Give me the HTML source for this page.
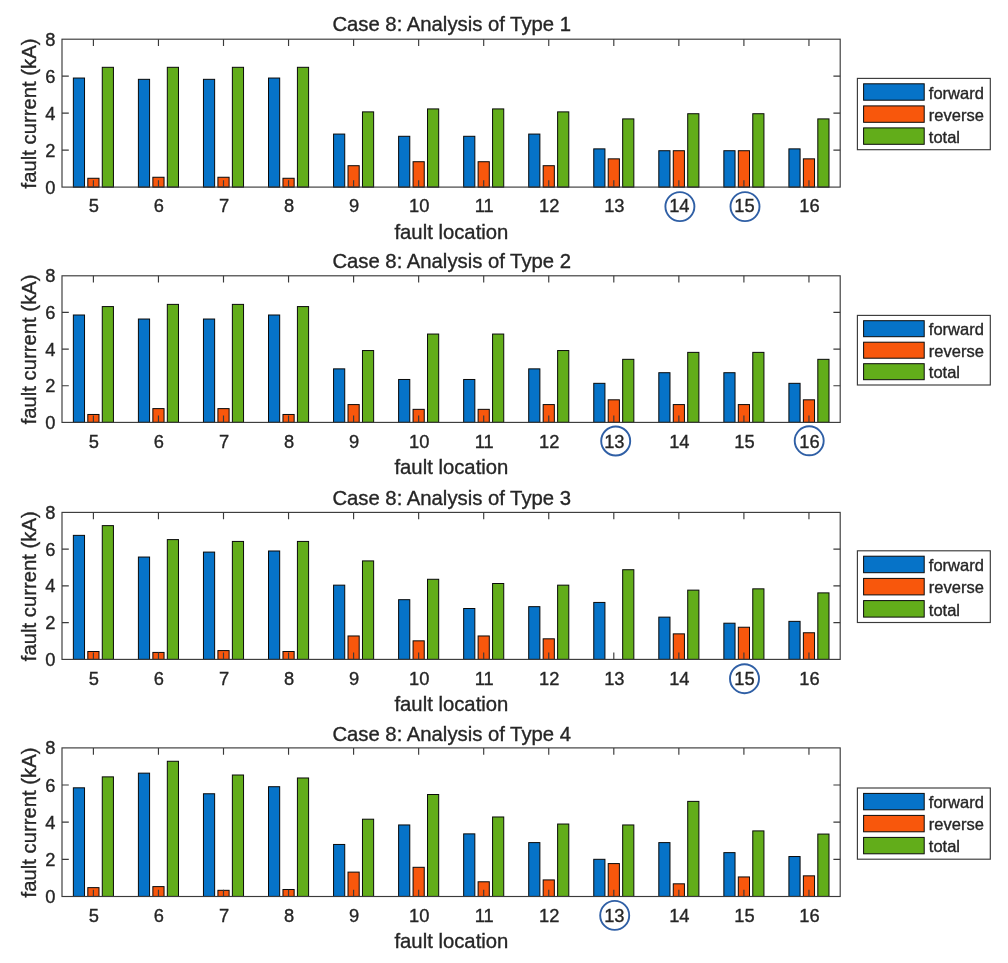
<!DOCTYPE html>
<html lang="en"><head><meta charset="utf-8"><title>Case 8: fault current analysis</title>
<style>html,body{margin:0;padding:0;background:#fff}body{width:1008px;height:963px;overflow:hidden}svg{display:block;filter:blur(0.55px)}text{font-family:"Liberation Sans", sans-serif;stroke:#262626;stroke-width:0.35px}</style></head><body>
<svg width="1008" height="963" viewBox="0 0 1008 963">
<rect width="1008" height="963" fill="#ffffff"/>
<g>
<text x="451.7" y="30.8" font-size="20.3" fill="#262626" text-anchor="middle">Case 8: Analysis of Type 1</text>
<rect x="73.36" y="78.04" width="11.17" height="109.11" fill="#0673C8" stroke="#0a0a0a" stroke-width="1"/>
<rect x="87.82" y="178.27" width="11.17" height="8.88" fill="#F8570C" stroke="#0a0a0a" stroke-width="1"/>
<rect x="102.27" y="67.31" width="11.17" height="119.84" fill="#62AD1A" stroke="#0a0a0a" stroke-width="1"/>
<rect x="138.41" y="79.33" width="11.17" height="107.82" fill="#0673C8" stroke="#0a0a0a" stroke-width="1"/>
<rect x="152.87" y="177.26" width="11.17" height="9.89" fill="#F8570C" stroke="#0a0a0a" stroke-width="1"/>
<rect x="167.32" y="67.31" width="11.17" height="119.84" fill="#62AD1A" stroke="#0a0a0a" stroke-width="1"/>
<rect x="203.46" y="79.33" width="11.17" height="107.82" fill="#0673C8" stroke="#0a0a0a" stroke-width="1"/>
<rect x="217.92" y="177.26" width="11.17" height="9.89" fill="#F8570C" stroke="#0a0a0a" stroke-width="1"/>
<rect x="232.37" y="67.31" width="11.17" height="119.84" fill="#62AD1A" stroke="#0a0a0a" stroke-width="1"/>
<rect x="268.51" y="78.04" width="11.17" height="109.11" fill="#0673C8" stroke="#0a0a0a" stroke-width="1"/>
<rect x="282.97" y="178.27" width="11.17" height="8.88" fill="#F8570C" stroke="#0a0a0a" stroke-width="1"/>
<rect x="297.42" y="67.31" width="11.17" height="119.84" fill="#62AD1A" stroke="#0a0a0a" stroke-width="1"/>
<rect x="333.56" y="134.07" width="11.17" height="53.08" fill="#0673C8" stroke="#0a0a0a" stroke-width="1"/>
<rect x="348.02" y="165.70" width="11.17" height="21.45" fill="#F8570C" stroke="#0a0a0a" stroke-width="1"/>
<rect x="362.47" y="111.88" width="11.17" height="75.27" fill="#62AD1A" stroke="#0a0a0a" stroke-width="1"/>
<rect x="398.61" y="136.29" width="11.17" height="50.86" fill="#0673C8" stroke="#0a0a0a" stroke-width="1"/>
<rect x="413.07" y="161.72" width="11.17" height="25.43" fill="#F8570C" stroke="#0a0a0a" stroke-width="1"/>
<rect x="427.52" y="108.92" width="11.17" height="78.23" fill="#62AD1A" stroke="#0a0a0a" stroke-width="1"/>
<rect x="463.66" y="136.29" width="11.17" height="50.86" fill="#0673C8" stroke="#0a0a0a" stroke-width="1"/>
<rect x="478.12" y="161.72" width="11.17" height="25.43" fill="#F8570C" stroke="#0a0a0a" stroke-width="1"/>
<rect x="492.57" y="108.92" width="11.17" height="78.23" fill="#62AD1A" stroke="#0a0a0a" stroke-width="1"/>
<rect x="528.71" y="134.07" width="11.17" height="53.08" fill="#0673C8" stroke="#0a0a0a" stroke-width="1"/>
<rect x="543.17" y="165.70" width="11.17" height="21.45" fill="#F8570C" stroke="#0a0a0a" stroke-width="1"/>
<rect x="557.62" y="111.88" width="11.17" height="75.27" fill="#62AD1A" stroke="#0a0a0a" stroke-width="1"/>
<rect x="593.76" y="148.87" width="11.17" height="38.28" fill="#0673C8" stroke="#0a0a0a" stroke-width="1"/>
<rect x="608.22" y="158.85" width="11.17" height="28.30" fill="#F8570C" stroke="#0a0a0a" stroke-width="1"/>
<rect x="622.67" y="118.91" width="11.17" height="68.24" fill="#62AD1A" stroke="#0a0a0a" stroke-width="1"/>
<rect x="658.81" y="150.72" width="11.17" height="36.43" fill="#0673C8" stroke="#0a0a0a" stroke-width="1"/>
<rect x="673.27" y="150.72" width="11.17" height="36.43" fill="#F8570C" stroke="#0a0a0a" stroke-width="1"/>
<rect x="687.72" y="113.73" width="11.17" height="73.42" fill="#62AD1A" stroke="#0a0a0a" stroke-width="1"/>
<rect x="723.86" y="150.72" width="11.17" height="36.43" fill="#0673C8" stroke="#0a0a0a" stroke-width="1"/>
<rect x="738.32" y="150.72" width="11.17" height="36.43" fill="#F8570C" stroke="#0a0a0a" stroke-width="1"/>
<rect x="752.77" y="113.73" width="11.17" height="73.42" fill="#62AD1A" stroke="#0a0a0a" stroke-width="1"/>
<rect x="788.91" y="148.87" width="11.17" height="38.28" fill="#0673C8" stroke="#0a0a0a" stroke-width="1"/>
<rect x="803.37" y="158.85" width="11.17" height="28.30" fill="#F8570C" stroke="#0a0a0a" stroke-width="1"/>
<rect x="817.82" y="118.91" width="11.17" height="68.24" fill="#62AD1A" stroke="#0a0a0a" stroke-width="1"/>
<rect x="62.0" y="39.2" width="778.2" height="147.9" fill="none" stroke="#3a3a3a" stroke-width="1.15"/>
<path d="M93.40 39.20v6.8M93.40 187.15v-6.8M158.45 39.20v6.8M158.45 187.15v-6.8M223.50 39.20v6.8M223.50 187.15v-6.8M288.55 39.20v6.8M288.55 187.15v-6.8M353.60 39.20v6.8M353.60 187.15v-6.8M418.65 39.20v6.8M418.65 187.15v-6.8M483.70 39.20v6.8M483.70 187.15v-6.8M548.75 39.20v6.8M548.75 187.15v-6.8M613.80 39.20v6.8M613.80 187.15v-6.8M678.85 39.20v6.8M678.85 187.15v-6.8M743.90 39.20v6.8M743.90 187.15v-6.8M808.95 39.20v6.8M808.95 187.15v-6.8M62.00 150.16h6.8M840.20 150.16h-6.8M62.00 113.18h6.8M840.20 113.18h-6.8M62.00 76.19h6.8M840.20 76.19h-6.8" stroke="#3a3a3a" stroke-width="1.15" fill="none"/>
<text x="93.90" y="212.2" font-size="18.3" fill="#262626" text-anchor="middle">5</text>
<text x="158.95" y="212.2" font-size="18.3" fill="#262626" text-anchor="middle">6</text>
<text x="224.00" y="212.2" font-size="18.3" fill="#262626" text-anchor="middle">7</text>
<text x="289.05" y="212.2" font-size="18.3" fill="#262626" text-anchor="middle">8</text>
<text x="354.10" y="212.2" font-size="18.3" fill="#262626" text-anchor="middle">9</text>
<text x="419.15" y="212.2" font-size="18.3" fill="#262626" text-anchor="middle">10</text>
<text x="484.20" y="212.2" font-size="18.3" fill="#262626" text-anchor="middle">11</text>
<text x="549.25" y="212.2" font-size="18.3" fill="#262626" text-anchor="middle">12</text>
<text x="614.30" y="212.2" font-size="18.3" fill="#262626" text-anchor="middle">13</text>
<text x="679.35" y="212.2" font-size="18.3" fill="#262626" text-anchor="middle">14</text>
<text x="744.40" y="212.2" font-size="18.3" fill="#262626" text-anchor="middle">15</text>
<text x="809.45" y="212.2" font-size="18.3" fill="#262626" text-anchor="middle">16</text>
<text x="55.4" y="193.7" font-size="18.3" fill="#262626" text-anchor="end">0</text>
<text x="55.4" y="156.7" font-size="18.3" fill="#262626" text-anchor="end">2</text>
<text x="55.4" y="119.7" font-size="18.3" fill="#262626" text-anchor="end">4</text>
<text x="55.4" y="82.7" font-size="18.3" fill="#262626" text-anchor="end">6</text>
<text x="55.4" y="45.7" font-size="18.3" fill="#262626" text-anchor="end">8</text>
<text x="451.4" y="238.6" font-size="20.3" fill="#262626" text-anchor="middle">fault location</text>
<text transform="translate(36.2 113.5) rotate(-90)" font-size="20.3" fill="#262626" text-anchor="middle">fault current (kA)</text>
<circle cx="679.9" cy="206.6" r="14.5" fill="none" stroke="#2F5FA5" stroke-width="1.9"/>
<circle cx="745.0" cy="206.6" r="14.5" fill="none" stroke="#2F5FA5" stroke-width="1.9"/>
<rect x="857.4" y="78.4" width="132.9" height="71.3" fill="#fff" stroke="#3a3a3a" stroke-width="1.15"/>
<rect x="863.6" y="83.8" width="60.6" height="16.4" fill="#0673C8" stroke="#0a0a0a" stroke-width="1"/>
<text x="928.8" y="98.7" font-size="16.5" fill="#262626">forward</text>
<rect x="863.6" y="105.9" width="60.6" height="16.4" fill="#F8570C" stroke="#0a0a0a" stroke-width="1"/>
<text x="928.8" y="120.8" font-size="16.5" fill="#262626">reverse</text>
<rect x="863.6" y="127.9" width="60.6" height="16.4" fill="#62AD1A" stroke="#0a0a0a" stroke-width="1"/>
<text x="928.8" y="142.8" font-size="16.5" fill="#262626">total</text>
</g>
<g>
<text x="451.7" y="267.8" font-size="20.3" fill="#262626" text-anchor="middle">Case 8: Analysis of Type 2</text>
<rect x="73.36" y="315.00" width="11.17" height="107.35" fill="#0673C8" stroke="#0a0a0a" stroke-width="1"/>
<rect x="87.82" y="414.47" width="11.17" height="7.88" fill="#F8570C" stroke="#0a0a0a" stroke-width="1"/>
<rect x="102.27" y="306.58" width="11.17" height="115.77" fill="#62AD1A" stroke="#0a0a0a" stroke-width="1"/>
<rect x="138.41" y="319.03" width="11.17" height="103.32" fill="#0673C8" stroke="#0a0a0a" stroke-width="1"/>
<rect x="152.87" y="408.61" width="11.17" height="13.74" fill="#F8570C" stroke="#0a0a0a" stroke-width="1"/>
<rect x="167.32" y="304.38" width="11.17" height="117.97" fill="#62AD1A" stroke="#0a0a0a" stroke-width="1"/>
<rect x="203.46" y="319.03" width="11.17" height="103.32" fill="#0673C8" stroke="#0a0a0a" stroke-width="1"/>
<rect x="217.92" y="408.61" width="11.17" height="13.74" fill="#F8570C" stroke="#0a0a0a" stroke-width="1"/>
<rect x="232.37" y="304.38" width="11.17" height="117.97" fill="#62AD1A" stroke="#0a0a0a" stroke-width="1"/>
<rect x="268.51" y="315.00" width="11.17" height="107.35" fill="#0673C8" stroke="#0a0a0a" stroke-width="1"/>
<rect x="282.97" y="414.47" width="11.17" height="7.88" fill="#F8570C" stroke="#0a0a0a" stroke-width="1"/>
<rect x="297.42" y="306.58" width="11.17" height="115.77" fill="#62AD1A" stroke="#0a0a0a" stroke-width="1"/>
<rect x="333.56" y="368.86" width="11.17" height="53.49" fill="#0673C8" stroke="#0a0a0a" stroke-width="1"/>
<rect x="348.02" y="404.58" width="11.17" height="17.77" fill="#F8570C" stroke="#0a0a0a" stroke-width="1"/>
<rect x="362.47" y="350.54" width="11.17" height="71.81" fill="#62AD1A" stroke="#0a0a0a" stroke-width="1"/>
<rect x="398.61" y="379.48" width="11.17" height="42.87" fill="#0673C8" stroke="#0a0a0a" stroke-width="1"/>
<rect x="413.07" y="409.34" width="11.17" height="13.01" fill="#F8570C" stroke="#0a0a0a" stroke-width="1"/>
<rect x="427.52" y="334.05" width="11.17" height="88.30" fill="#62AD1A" stroke="#0a0a0a" stroke-width="1"/>
<rect x="463.66" y="379.48" width="11.17" height="42.87" fill="#0673C8" stroke="#0a0a0a" stroke-width="1"/>
<rect x="478.12" y="409.34" width="11.17" height="13.01" fill="#F8570C" stroke="#0a0a0a" stroke-width="1"/>
<rect x="492.57" y="334.05" width="11.17" height="88.30" fill="#62AD1A" stroke="#0a0a0a" stroke-width="1"/>
<rect x="528.71" y="368.86" width="11.17" height="53.49" fill="#0673C8" stroke="#0a0a0a" stroke-width="1"/>
<rect x="543.17" y="404.58" width="11.17" height="17.77" fill="#F8570C" stroke="#0a0a0a" stroke-width="1"/>
<rect x="557.62" y="350.54" width="11.17" height="71.81" fill="#62AD1A" stroke="#0a0a0a" stroke-width="1"/>
<rect x="593.76" y="383.33" width="11.17" height="39.02" fill="#0673C8" stroke="#0a0a0a" stroke-width="1"/>
<rect x="608.22" y="399.82" width="11.17" height="22.53" fill="#F8570C" stroke="#0a0a0a" stroke-width="1"/>
<rect x="622.67" y="359.33" width="11.17" height="63.02" fill="#62AD1A" stroke="#0a0a0a" stroke-width="1"/>
<rect x="658.81" y="372.71" width="11.17" height="49.64" fill="#0673C8" stroke="#0a0a0a" stroke-width="1"/>
<rect x="673.27" y="404.58" width="11.17" height="17.77" fill="#F8570C" stroke="#0a0a0a" stroke-width="1"/>
<rect x="687.72" y="352.37" width="11.17" height="69.98" fill="#62AD1A" stroke="#0a0a0a" stroke-width="1"/>
<rect x="723.86" y="372.71" width="11.17" height="49.64" fill="#0673C8" stroke="#0a0a0a" stroke-width="1"/>
<rect x="738.32" y="404.58" width="11.17" height="17.77" fill="#F8570C" stroke="#0a0a0a" stroke-width="1"/>
<rect x="752.77" y="352.37" width="11.17" height="69.98" fill="#62AD1A" stroke="#0a0a0a" stroke-width="1"/>
<rect x="788.91" y="383.33" width="11.17" height="39.02" fill="#0673C8" stroke="#0a0a0a" stroke-width="1"/>
<rect x="803.37" y="399.82" width="11.17" height="22.53" fill="#F8570C" stroke="#0a0a0a" stroke-width="1"/>
<rect x="817.82" y="359.33" width="11.17" height="63.02" fill="#62AD1A" stroke="#0a0a0a" stroke-width="1"/>
<rect x="62.0" y="275.8" width="778.2" height="146.6" fill="none" stroke="#3a3a3a" stroke-width="1.15"/>
<path d="M93.40 275.80v6.8M93.40 422.35v-6.8M158.45 275.80v6.8M158.45 422.35v-6.8M223.50 275.80v6.8M223.50 422.35v-6.8M288.55 275.80v6.8M288.55 422.35v-6.8M353.60 275.80v6.8M353.60 422.35v-6.8M418.65 275.80v6.8M418.65 422.35v-6.8M483.70 275.80v6.8M483.70 422.35v-6.8M548.75 275.80v6.8M548.75 422.35v-6.8M613.80 275.80v6.8M613.80 422.35v-6.8M678.85 275.80v6.8M678.85 422.35v-6.8M743.90 275.80v6.8M743.90 422.35v-6.8M808.95 275.80v6.8M808.95 422.35v-6.8M62.00 385.71h6.8M840.20 385.71h-6.8M62.00 349.08h6.8M840.20 349.08h-6.8M62.00 312.44h6.8M840.20 312.44h-6.8" stroke="#3a3a3a" stroke-width="1.15" fill="none"/>
<text x="93.90" y="447.5" font-size="18.3" fill="#262626" text-anchor="middle">5</text>
<text x="158.95" y="447.5" font-size="18.3" fill="#262626" text-anchor="middle">6</text>
<text x="224.00" y="447.5" font-size="18.3" fill="#262626" text-anchor="middle">7</text>
<text x="289.05" y="447.5" font-size="18.3" fill="#262626" text-anchor="middle">8</text>
<text x="354.10" y="447.5" font-size="18.3" fill="#262626" text-anchor="middle">9</text>
<text x="419.15" y="447.5" font-size="18.3" fill="#262626" text-anchor="middle">10</text>
<text x="484.20" y="447.5" font-size="18.3" fill="#262626" text-anchor="middle">11</text>
<text x="549.25" y="447.5" font-size="18.3" fill="#262626" text-anchor="middle">12</text>
<text x="614.30" y="447.5" font-size="18.3" fill="#262626" text-anchor="middle">13</text>
<text x="679.35" y="447.5" font-size="18.3" fill="#262626" text-anchor="middle">14</text>
<text x="744.40" y="447.5" font-size="18.3" fill="#262626" text-anchor="middle">15</text>
<text x="809.45" y="447.5" font-size="18.3" fill="#262626" text-anchor="middle">16</text>
<text x="55.4" y="428.9" font-size="18.3" fill="#262626" text-anchor="end">0</text>
<text x="55.4" y="392.2" font-size="18.3" fill="#262626" text-anchor="end">2</text>
<text x="55.4" y="355.6" font-size="18.3" fill="#262626" text-anchor="end">4</text>
<text x="55.4" y="318.9" font-size="18.3" fill="#262626" text-anchor="end">6</text>
<text x="55.4" y="282.3" font-size="18.3" fill="#262626" text-anchor="end">8</text>
<text x="451.4" y="473.8" font-size="20.3" fill="#262626" text-anchor="middle">fault location</text>
<text transform="translate(36.2 349.4) rotate(-90)" font-size="20.3" fill="#262626" text-anchor="middle">fault current (kA)</text>
<circle cx="615.7" cy="441.0" r="14.5" fill="none" stroke="#2F5FA5" stroke-width="1.9"/>
<circle cx="809.2" cy="440.8" r="14.5" fill="none" stroke="#2F5FA5" stroke-width="1.9"/>
<rect x="857.4" y="315.4" width="132.9" height="69.6" fill="#fff" stroke="#3a3a3a" stroke-width="1.15"/>
<rect x="863.6" y="320.7" width="60.6" height="16.0" fill="#0673C8" stroke="#0a0a0a" stroke-width="1"/>
<text x="928.8" y="335.2" font-size="16.5" fill="#262626">forward</text>
<rect x="863.6" y="342.2" width="60.6" height="16.0" fill="#F8570C" stroke="#0a0a0a" stroke-width="1"/>
<text x="928.8" y="356.7" font-size="16.5" fill="#262626">reverse</text>
<rect x="863.6" y="363.7" width="60.6" height="16.0" fill="#62AD1A" stroke="#0a0a0a" stroke-width="1"/>
<text x="928.8" y="378.3" font-size="16.5" fill="#262626">total</text>
</g>
<g>
<text x="451.7" y="504.6" font-size="20.3" fill="#262626" text-anchor="middle">Case 8: Analysis of Type 3</text>
<rect x="73.36" y="535.37" width="11.17" height="124.03" fill="#0673C8" stroke="#0a0a0a" stroke-width="1"/>
<rect x="87.82" y="651.50" width="11.17" height="7.90" fill="#F8570C" stroke="#0a0a0a" stroke-width="1"/>
<rect x="102.27" y="525.63" width="11.17" height="133.77" fill="#62AD1A" stroke="#0a0a0a" stroke-width="1"/>
<rect x="138.41" y="557.05" width="11.17" height="102.35" fill="#0673C8" stroke="#0a0a0a" stroke-width="1"/>
<rect x="152.87" y="652.42" width="11.17" height="6.98" fill="#F8570C" stroke="#0a0a0a" stroke-width="1"/>
<rect x="167.32" y="539.60" width="11.17" height="119.80" fill="#62AD1A" stroke="#0a0a0a" stroke-width="1"/>
<rect x="203.46" y="552.09" width="11.17" height="107.31" fill="#0673C8" stroke="#0a0a0a" stroke-width="1"/>
<rect x="217.92" y="650.58" width="11.17" height="8.82" fill="#F8570C" stroke="#0a0a0a" stroke-width="1"/>
<rect x="232.37" y="541.43" width="11.17" height="117.97" fill="#62AD1A" stroke="#0a0a0a" stroke-width="1"/>
<rect x="268.51" y="550.99" width="11.17" height="108.41" fill="#0673C8" stroke="#0a0a0a" stroke-width="1"/>
<rect x="282.97" y="651.50" width="11.17" height="7.90" fill="#F8570C" stroke="#0a0a0a" stroke-width="1"/>
<rect x="297.42" y="541.43" width="11.17" height="117.97" fill="#62AD1A" stroke="#0a0a0a" stroke-width="1"/>
<rect x="333.56" y="585.16" width="11.17" height="74.23" fill="#0673C8" stroke="#0a0a0a" stroke-width="1"/>
<rect x="348.02" y="635.97" width="11.17" height="23.43" fill="#F8570C" stroke="#0a0a0a" stroke-width="1"/>
<rect x="362.47" y="560.91" width="11.17" height="98.49" fill="#62AD1A" stroke="#0a0a0a" stroke-width="1"/>
<rect x="398.61" y="599.68" width="11.17" height="59.72" fill="#0673C8" stroke="#0a0a0a" stroke-width="1"/>
<rect x="413.07" y="640.84" width="11.17" height="18.56" fill="#F8570C" stroke="#0a0a0a" stroke-width="1"/>
<rect x="427.52" y="579.28" width="11.17" height="80.12" fill="#62AD1A" stroke="#0a0a0a" stroke-width="1"/>
<rect x="463.66" y="608.50" width="11.17" height="50.90" fill="#0673C8" stroke="#0a0a0a" stroke-width="1"/>
<rect x="478.12" y="635.97" width="11.17" height="23.43" fill="#F8570C" stroke="#0a0a0a" stroke-width="1"/>
<rect x="492.57" y="583.51" width="11.17" height="75.89" fill="#62AD1A" stroke="#0a0a0a" stroke-width="1"/>
<rect x="528.71" y="606.66" width="11.17" height="52.74" fill="#0673C8" stroke="#0a0a0a" stroke-width="1"/>
<rect x="543.17" y="638.82" width="11.17" height="20.58" fill="#F8570C" stroke="#0a0a0a" stroke-width="1"/>
<rect x="557.62" y="585.16" width="11.17" height="74.23" fill="#62AD1A" stroke="#0a0a0a" stroke-width="1"/>
<rect x="593.76" y="602.44" width="11.17" height="56.96" fill="#0673C8" stroke="#0a0a0a" stroke-width="1"/>
<rect x="622.67" y="569.73" width="11.17" height="89.67" fill="#62AD1A" stroke="#0a0a0a" stroke-width="1"/>
<rect x="658.81" y="617.14" width="11.17" height="42.26" fill="#0673C8" stroke="#0a0a0a" stroke-width="1"/>
<rect x="673.27" y="633.86" width="11.17" height="25.54" fill="#F8570C" stroke="#0a0a0a" stroke-width="1"/>
<rect x="687.72" y="590.13" width="11.17" height="69.27" fill="#62AD1A" stroke="#0a0a0a" stroke-width="1"/>
<rect x="723.86" y="623.20" width="11.17" height="36.20" fill="#0673C8" stroke="#0a0a0a" stroke-width="1"/>
<rect x="738.32" y="627.24" width="11.17" height="32.16" fill="#F8570C" stroke="#0a0a0a" stroke-width="1"/>
<rect x="752.77" y="588.84" width="11.17" height="70.56" fill="#62AD1A" stroke="#0a0a0a" stroke-width="1"/>
<rect x="788.91" y="621.36" width="11.17" height="38.04" fill="#0673C8" stroke="#0a0a0a" stroke-width="1"/>
<rect x="803.37" y="632.76" width="11.17" height="26.64" fill="#F8570C" stroke="#0a0a0a" stroke-width="1"/>
<rect x="817.82" y="592.88" width="11.17" height="66.52" fill="#62AD1A" stroke="#0a0a0a" stroke-width="1"/>
<rect x="62.0" y="512.4" width="778.2" height="147.0" fill="none" stroke="#3a3a3a" stroke-width="1.15"/>
<path d="M93.40 512.40v6.8M93.40 659.40v-6.8M158.45 512.40v6.8M158.45 659.40v-6.8M223.50 512.40v6.8M223.50 659.40v-6.8M288.55 512.40v6.8M288.55 659.40v-6.8M353.60 512.40v6.8M353.60 659.40v-6.8M418.65 512.40v6.8M418.65 659.40v-6.8M483.70 512.40v6.8M483.70 659.40v-6.8M548.75 512.40v6.8M548.75 659.40v-6.8M613.80 512.40v6.8M613.80 659.40v-6.8M678.85 512.40v6.8M678.85 659.40v-6.8M743.90 512.40v6.8M743.90 659.40v-6.8M808.95 512.40v6.8M808.95 659.40v-6.8M62.00 622.65h6.8M840.20 622.65h-6.8M62.00 585.90h6.8M840.20 585.90h-6.8M62.00 549.15h6.8M840.20 549.15h-6.8" stroke="#3a3a3a" stroke-width="1.15" fill="none"/>
<text x="93.90" y="684.5" font-size="18.3" fill="#262626" text-anchor="middle">5</text>
<text x="158.95" y="684.5" font-size="18.3" fill="#262626" text-anchor="middle">6</text>
<text x="224.00" y="684.5" font-size="18.3" fill="#262626" text-anchor="middle">7</text>
<text x="289.05" y="684.5" font-size="18.3" fill="#262626" text-anchor="middle">8</text>
<text x="354.10" y="684.5" font-size="18.3" fill="#262626" text-anchor="middle">9</text>
<text x="419.15" y="684.5" font-size="18.3" fill="#262626" text-anchor="middle">10</text>
<text x="484.20" y="684.5" font-size="18.3" fill="#262626" text-anchor="middle">11</text>
<text x="549.25" y="684.5" font-size="18.3" fill="#262626" text-anchor="middle">12</text>
<text x="614.30" y="684.5" font-size="18.3" fill="#262626" text-anchor="middle">13</text>
<text x="679.35" y="684.5" font-size="18.3" fill="#262626" text-anchor="middle">14</text>
<text x="744.40" y="684.5" font-size="18.3" fill="#262626" text-anchor="middle">15</text>
<text x="809.45" y="684.5" font-size="18.3" fill="#262626" text-anchor="middle">16</text>
<text x="55.4" y="665.9" font-size="18.3" fill="#262626" text-anchor="end">0</text>
<text x="55.4" y="629.1" font-size="18.3" fill="#262626" text-anchor="end">2</text>
<text x="55.4" y="592.4" font-size="18.3" fill="#262626" text-anchor="end">4</text>
<text x="55.4" y="555.6" font-size="18.3" fill="#262626" text-anchor="end">6</text>
<text x="55.4" y="518.9" font-size="18.3" fill="#262626" text-anchor="end">8</text>
<text x="451.4" y="710.8" font-size="20.3" fill="#262626" text-anchor="middle">fault location</text>
<text transform="translate(36.2 586.2) rotate(-90)" font-size="20.3" fill="#262626" text-anchor="middle">fault current (kA)</text>
<circle cx="744.5" cy="678.7" r="14.5" fill="none" stroke="#2F5FA5" stroke-width="1.9"/>
<rect x="857.4" y="550.8" width="132.9" height="71.7" fill="#fff" stroke="#3a3a3a" stroke-width="1.15"/>
<rect x="863.6" y="556.2" width="60.6" height="16.5" fill="#0673C8" stroke="#0a0a0a" stroke-width="1"/>
<text x="928.8" y="571.2" font-size="16.5" fill="#262626">forward</text>
<rect x="863.6" y="578.4" width="60.6" height="16.5" fill="#F8570C" stroke="#0a0a0a" stroke-width="1"/>
<text x="928.8" y="593.4" font-size="16.5" fill="#262626">reverse</text>
<rect x="863.6" y="600.6" width="60.6" height="16.5" fill="#62AD1A" stroke="#0a0a0a" stroke-width="1"/>
<text x="928.8" y="615.6" font-size="16.5" fill="#262626">total</text>
</g>
<g>
<text x="451.7" y="740.7" font-size="20.3" fill="#262626" text-anchor="middle">Case 8: Analysis of Type 4</text>
<rect x="73.36" y="787.82" width="11.17" height="108.63" fill="#0673C8" stroke="#0a0a0a" stroke-width="1"/>
<rect x="87.82" y="887.63" width="11.17" height="8.82" fill="#F8570C" stroke="#0a0a0a" stroke-width="1"/>
<rect x="102.27" y="776.87" width="11.17" height="119.58" fill="#62AD1A" stroke="#0a0a0a" stroke-width="1"/>
<rect x="138.41" y="773.15" width="11.17" height="123.30" fill="#0673C8" stroke="#0a0a0a" stroke-width="1"/>
<rect x="152.87" y="886.61" width="11.17" height="9.84" fill="#F8570C" stroke="#0a0a0a" stroke-width="1"/>
<rect x="167.32" y="761.27" width="11.17" height="135.18" fill="#62AD1A" stroke="#0a0a0a" stroke-width="1"/>
<rect x="203.46" y="793.76" width="11.17" height="102.69" fill="#0673C8" stroke="#0a0a0a" stroke-width="1"/>
<rect x="217.92" y="890.32" width="11.17" height="6.13" fill="#F8570C" stroke="#0a0a0a" stroke-width="1"/>
<rect x="232.37" y="775.01" width="11.17" height="121.44" fill="#62AD1A" stroke="#0a0a0a" stroke-width="1"/>
<rect x="268.51" y="786.71" width="11.17" height="109.74" fill="#0673C8" stroke="#0a0a0a" stroke-width="1"/>
<rect x="282.97" y="889.49" width="11.17" height="6.96" fill="#F8570C" stroke="#0a0a0a" stroke-width="1"/>
<rect x="297.42" y="777.98" width="11.17" height="118.47" fill="#62AD1A" stroke="#0a0a0a" stroke-width="1"/>
<rect x="333.56" y="844.46" width="11.17" height="51.99" fill="#0673C8" stroke="#0a0a0a" stroke-width="1"/>
<rect x="348.02" y="872.12" width="11.17" height="24.33" fill="#F8570C" stroke="#0a0a0a" stroke-width="1"/>
<rect x="362.47" y="819.20" width="11.17" height="77.25" fill="#62AD1A" stroke="#0a0a0a" stroke-width="1"/>
<rect x="398.61" y="824.96" width="11.17" height="71.49" fill="#0673C8" stroke="#0a0a0a" stroke-width="1"/>
<rect x="413.07" y="867.30" width="11.17" height="29.15" fill="#F8570C" stroke="#0a0a0a" stroke-width="1"/>
<rect x="427.52" y="794.51" width="11.17" height="101.94" fill="#62AD1A" stroke="#0a0a0a" stroke-width="1"/>
<rect x="463.66" y="833.87" width="11.17" height="62.58" fill="#0673C8" stroke="#0a0a0a" stroke-width="1"/>
<rect x="478.12" y="881.78" width="11.17" height="14.67" fill="#F8570C" stroke="#0a0a0a" stroke-width="1"/>
<rect x="492.57" y="816.98" width="11.17" height="79.47" fill="#62AD1A" stroke="#0a0a0a" stroke-width="1"/>
<rect x="528.71" y="842.60" width="11.17" height="53.85" fill="#0673C8" stroke="#0a0a0a" stroke-width="1"/>
<rect x="543.17" y="879.92" width="11.17" height="16.53" fill="#F8570C" stroke="#0a0a0a" stroke-width="1"/>
<rect x="557.62" y="824.03" width="11.17" height="72.42" fill="#62AD1A" stroke="#0a0a0a" stroke-width="1"/>
<rect x="593.76" y="859.31" width="11.17" height="37.14" fill="#0673C8" stroke="#0a0a0a" stroke-width="1"/>
<rect x="608.22" y="863.58" width="11.17" height="32.87" fill="#F8570C" stroke="#0a0a0a" stroke-width="1"/>
<rect x="622.67" y="824.96" width="11.17" height="71.49" fill="#62AD1A" stroke="#0a0a0a" stroke-width="1"/>
<rect x="658.81" y="842.60" width="11.17" height="53.85" fill="#0673C8" stroke="#0a0a0a" stroke-width="1"/>
<rect x="673.27" y="883.82" width="11.17" height="12.63" fill="#F8570C" stroke="#0a0a0a" stroke-width="1"/>
<rect x="687.72" y="801.38" width="11.17" height="95.07" fill="#62AD1A" stroke="#0a0a0a" stroke-width="1"/>
<rect x="723.86" y="852.63" width="11.17" height="43.82" fill="#0673C8" stroke="#0a0a0a" stroke-width="1"/>
<rect x="738.32" y="876.95" width="11.17" height="19.50" fill="#F8570C" stroke="#0a0a0a" stroke-width="1"/>
<rect x="752.77" y="830.90" width="11.17" height="65.55" fill="#62AD1A" stroke="#0a0a0a" stroke-width="1"/>
<rect x="788.91" y="856.53" width="11.17" height="39.92" fill="#0673C8" stroke="#0a0a0a" stroke-width="1"/>
<rect x="803.37" y="875.84" width="11.17" height="20.61" fill="#F8570C" stroke="#0a0a0a" stroke-width="1"/>
<rect x="817.82" y="834.06" width="11.17" height="62.39" fill="#62AD1A" stroke="#0a0a0a" stroke-width="1"/>
<rect x="62.0" y="747.9" width="778.2" height="148.6" fill="none" stroke="#3a3a3a" stroke-width="1.15"/>
<path d="M93.40 747.90v6.8M93.40 896.45v-6.8M158.45 747.90v6.8M158.45 896.45v-6.8M223.50 747.90v6.8M223.50 896.45v-6.8M288.55 747.90v6.8M288.55 896.45v-6.8M353.60 747.90v6.8M353.60 896.45v-6.8M418.65 747.90v6.8M418.65 896.45v-6.8M483.70 747.90v6.8M483.70 896.45v-6.8M548.75 747.90v6.8M548.75 896.45v-6.8M613.80 747.90v6.8M613.80 896.45v-6.8M678.85 747.90v6.8M678.85 896.45v-6.8M743.90 747.90v6.8M743.90 896.45v-6.8M808.95 747.90v6.8M808.95 896.45v-6.8M62.00 859.31h6.8M840.20 859.31h-6.8M62.00 822.17h6.8M840.20 822.17h-6.8M62.00 785.04h6.8M840.20 785.04h-6.8" stroke="#3a3a3a" stroke-width="1.15" fill="none"/>
<text x="93.90" y="921.6" font-size="18.3" fill="#262626" text-anchor="middle">5</text>
<text x="158.95" y="921.6" font-size="18.3" fill="#262626" text-anchor="middle">6</text>
<text x="224.00" y="921.6" font-size="18.3" fill="#262626" text-anchor="middle">7</text>
<text x="289.05" y="921.6" font-size="18.3" fill="#262626" text-anchor="middle">8</text>
<text x="354.10" y="921.6" font-size="18.3" fill="#262626" text-anchor="middle">9</text>
<text x="419.15" y="921.6" font-size="18.3" fill="#262626" text-anchor="middle">10</text>
<text x="484.20" y="921.6" font-size="18.3" fill="#262626" text-anchor="middle">11</text>
<text x="549.25" y="921.6" font-size="18.3" fill="#262626" text-anchor="middle">12</text>
<text x="614.30" y="921.6" font-size="18.3" fill="#262626" text-anchor="middle">13</text>
<text x="679.35" y="921.6" font-size="18.3" fill="#262626" text-anchor="middle">14</text>
<text x="744.40" y="921.6" font-size="18.3" fill="#262626" text-anchor="middle">15</text>
<text x="809.45" y="921.6" font-size="18.3" fill="#262626" text-anchor="middle">16</text>
<text x="55.4" y="903.0" font-size="18.3" fill="#262626" text-anchor="end">0</text>
<text x="55.4" y="865.8" font-size="18.3" fill="#262626" text-anchor="end">2</text>
<text x="55.4" y="828.7" font-size="18.3" fill="#262626" text-anchor="end">4</text>
<text x="55.4" y="791.5" font-size="18.3" fill="#262626" text-anchor="end">6</text>
<text x="55.4" y="754.4" font-size="18.3" fill="#262626" text-anchor="end">8</text>
<text x="451.4" y="947.9" font-size="20.3" fill="#262626" text-anchor="middle">fault location</text>
<text transform="translate(36.2 822.5) rotate(-90)" font-size="20.3" fill="#262626" text-anchor="middle">fault current (kA)</text>
<circle cx="614.7" cy="915.4" r="14.5" fill="none" stroke="#2F5FA5" stroke-width="1.9"/>
<rect x="857.4" y="788.0" width="132.9" height="71.2" fill="#fff" stroke="#3a3a3a" stroke-width="1.15"/>
<rect x="863.6" y="793.4" width="60.6" height="16.4" fill="#0673C8" stroke="#0a0a0a" stroke-width="1"/>
<text x="928.8" y="808.3" font-size="16.5" fill="#262626">forward</text>
<rect x="863.6" y="815.4" width="60.6" height="16.4" fill="#F8570C" stroke="#0a0a0a" stroke-width="1"/>
<text x="928.8" y="830.3" font-size="16.5" fill="#262626">reverse</text>
<rect x="863.6" y="837.4" width="60.6" height="16.4" fill="#62AD1A" stroke="#0a0a0a" stroke-width="1"/>
<text x="928.8" y="852.3" font-size="16.5" fill="#262626">total</text>
</g>
</svg></body></html>
